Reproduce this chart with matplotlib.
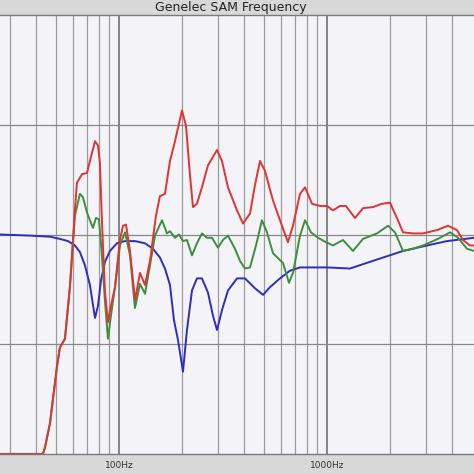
import matplotlib
matplotlib.use("Agg")
import matplotlib.pyplot as plt
from matplotlib.transforms import blended_transform_factory

# frequency response traces (Hz, dB)
red_f = [26.8, 43.1, 44.1, 46.6, 50.3, 52.0, 55.0, 58.1, 61.4, 62.8, 66.4, 70.2, 72.5,
         76.7, 79.3, 81.0, 82.8, 85.6, 88.5, 91.5, 95.7, 101.1, 104.5, 108.1, 113.0,
         119.4, 126.2, 133.4, 141.0, 150.6, 157.4, 166.4, 175.9, 185.9, 200.9, 210.0,
         219.5, 226.9, 237.1, 250.6, 267.9, 296.0, 312.7, 334.2, 369.3, 394.7, 426.5,
         450.6, 476.4, 503.4, 550.0, 594.3, 649.3, 686.3, 741.9, 784.1, 847.2, 925.5,
         1000, 1068.6, 1154.8, 1233.9, 1363.4, 1490, 1664.5, 1838.4, 2009, 2170, 2319,
         2591, 2894, 3379, 3816, 4217, 4506, 4869, 5090]
red_db = [-20, -20, -19.4, -17.2, -12.1, -10.3, -9.5, -4.8, 2.2, 4.7, 5.5, 5.6, 6.7,
          8.5, 8.1, 6.5, 1.3, -5.1, -8.0, -6.5, -4.8, -0.5, 0.8, 0.9, -1.5,
          -6.0, -3.5, -4.6, -2.4, 1.7, 3.5, 3.7, 6.7, 8.5, 11.3, 9.9,
          5.4, 2.5, 2.8, 4.3, 6.3, 7.7, 6.7, 4.3, 2.2, 1.0, 1.9,
          4.5, 6.7, 5.8, 3.1, 1.3, -0.7, 0.8, 3.7, 4.3, 2.8, 2.6,
          2.6, 2.2, 2.6, 2.6, 1.5, 2.4, 2.5, 2.8, 2.9, 1.5, 0.2,
          0.1, 0.1, 0.4, 0.8, 0.4, -0.5, -1.0, -1.0]

green_f = [26.8, 43.1, 44.1, 46.6, 50.3, 52.0, 55.0, 58.1, 61.4, 64.9, 67.1, 70.2, 72.5,
           75.0, 77.5, 80.1, 82.8, 85.6, 88.5, 91.5, 95.7, 101.1, 106.9, 113.0, 119.4,
           126.2, 133.4, 141.0, 149.0, 161.0, 170.1, 175.9, 185.9, 194.3, 203.1, 212.3,
           224.4, 237.1, 250.6, 265.0, 280.0, 299.2, 316.2, 334.2, 361.2, 381.6, 403.5,
           426.5, 455.7, 486.8, 514.6, 550.0, 614.4, 656.6, 686.3, 741.9, 784.1, 837.8,
           905.2, 989.0, 1068.6, 1193.8, 1333.5, 1490, 1739.6, 1965, 2123, 2319, 2591,
           2894, 3417, 3903, 4264, 4712, 5090]
green_db = [-20, -20, -19.4, -17.2, -12.1, -10.3, -9.5, -4.8, 1.7, 3.7, 3.4, 2.0, 1.3,
            0.6, 1.5, 1.4, -1.9, -6.0, -9.5, -7.4, -4.8, -1.0, 0.2, -1.9, -6.7,
            -4.5, -5.4, -2.8, -0.1, 1.3, 0.1, 0.3, -0.3, 0.0, -0.6, -0.5,
            -1.9, -0.8, 0.1, -0.3, -0.3, -1.2, -0.5, -0.1, -1.3, -2.4, -3.1,
            -3.0, -1.0, 1.3, 0.2, -1.7, -2.6, -4.4, -3.5, -0.1, 1.3, 0.2,
            -0.3, -0.7, -1.0, -0.5, -1.5, -0.4, 0.1, 0.8, 0.2, -1.5, -1.3,
            -1.0, -0.4, 0.2, -0.3, -1.3, -1.5]

blue_f = [26.8, 37.3, 46.6, 52.0, 56.9, 61.4, 64.9, 68.6, 72.5, 76.7, 79.3, 81.9, 85.6,
          90.5, 97.8, 106.9, 119.4, 133.4, 145.7, 157.4, 166.4, 175.9, 183.8, 192.2,
          203.1, 212.3, 224.4, 237.1, 250.6, 267.9, 283.1, 296.0, 312.7, 334.2, 369.3,
          403.5, 450.6, 492.6, 532.1, 594.3, 663.8, 741.9, 1000, 1290, 1664.5, 2319,
          3026, 3775, 5090]
blue_db = [0, -0.1, -0.2, -0.4, -0.6, -1.0, -1.6, -2.8, -4.6, -7.6, -6.5, -4.2, -2.5,
           -1.5, -0.8, -0.6, -0.6, -0.8, -1.3, -2.1, -3.1, -4.6, -7.8, -9.6,
           -12.5, -8.7, -5.1, -4.0, -4.0, -5.3, -7.4, -8.7, -6.9, -5.1, -4.0,
           -4.0, -4.9, -5.5, -4.8, -4.0, -3.3, -3.0, -3.0, -3.1, -2.4, -1.5,
           -1.0, -0.6, -0.3]

grid_freqs = [30, 40, 50, 60, 70, 80, 90, 200, 300, 400, 500, 600, 700, 800, 900,
              2000, 3000, 4000]
decade_freqs = [100, 1000]
decade_labels = ["100Hz", "1000Hz"]

fig = plt.figure(figsize=(4.74, 4.74), dpi=100, facecolor="#d8d8d8")
ax = fig.add_axes([0, 20 / 474, 1, 439 / 474])
ax.set_facecolor("#f4f3f7")
ax.set_xscale("log")
ax.set_xlim(26.8, 5090)
ax.set_ylim(-20, 20)

for f in grid_freqs:
    ax.axvline(f, color="#9c9c9c", lw=0.9, zorder=1)
for f in decade_freqs:
    ax.axvline(f, color="#666666", lw=1.1, zorder=1)
for y in [-10, 0, 10]:
    ax.axhline(y, color="#888888", lw=0.9, zorder=1)

line_kw = dict(lw=1.4, solid_joinstyle="round", solid_capstyle="round")
ax.plot(blue_f, blue_db, color="#2e2ebe", zorder=3, **line_kw)
ax.plot(green_f, green_db, color="#3d8f3d", zorder=4, **line_kw)
ax.plot(red_f, red_db, color="#e03434", zorder=5, **line_kw)

ax.set_xticks([])
ax.set_yticks([])
ax.minorticks_off()
for s in ax.spines.values():
    s.set_color("#7a7a7a")
    s.set_linewidth(1.0)
ax.spines["left"].set_visible(False)
ax.spines["right"].set_visible(False)

trans = blended_transform_factory(ax.transData, fig.transFigure)
for f, lab in zip(decade_freqs, decade_labels):
    ax.text(f, 9 / 474, lab, transform=trans, ha="center", va="center",
            fontsize=6.5, color="#333333", clip_on=False)

fig.text(0.487, 1 - 7.5 / 474, "Genelec SAM Frequency", ha="center", va="center",
         fontsize=9, color="#222222")

fig.savefig("out.png", dpi=100, facecolor=fig.get_facecolor())
